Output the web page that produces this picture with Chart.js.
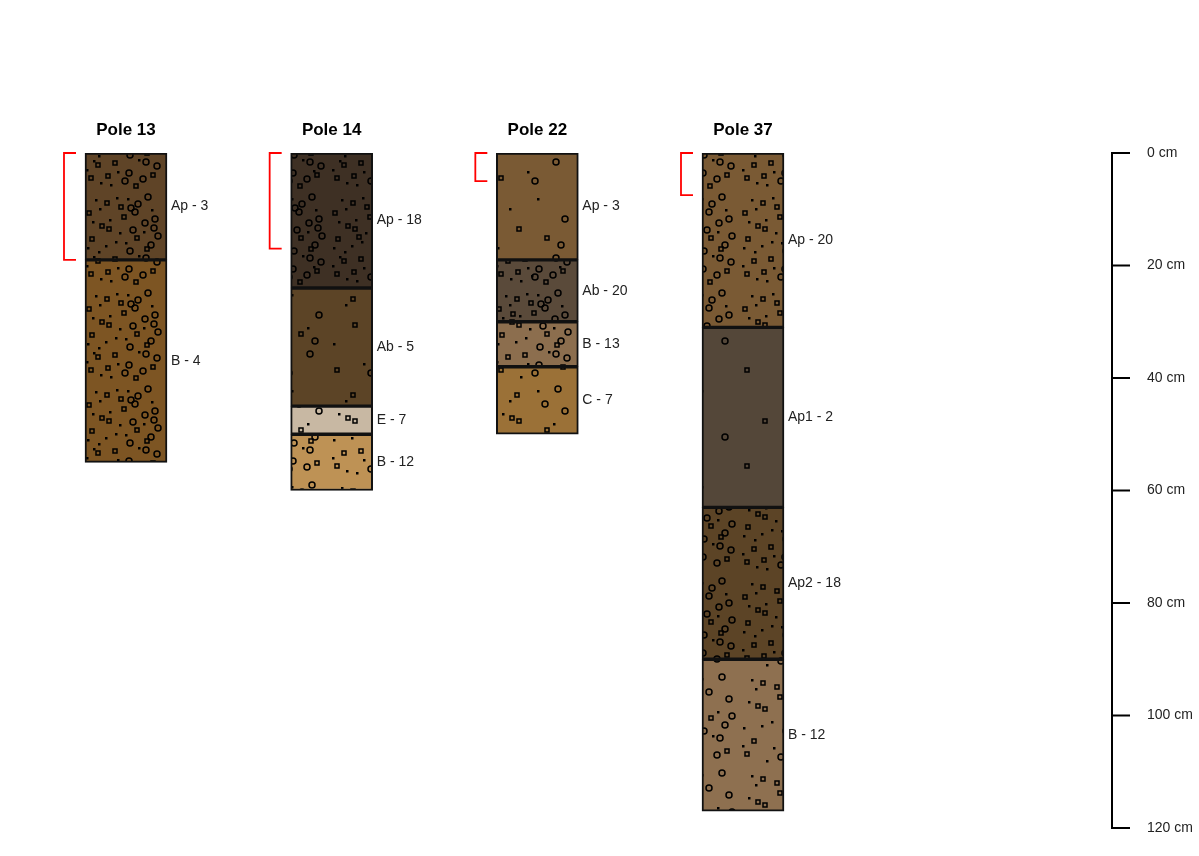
<!DOCTYPE html>
<html>
<head>
<meta charset="utf-8">
<script src="https://cdn.jsdelivr.net/npm/chart.js@4/dist/chart.umd.min.js"></script>
<style>
  body { margin: 0; background: #fff; }
  #wrap { width: 1199px; height: 856px; }
</style>
</head>
<body>
<div id="wrap"><canvas id="c" width="1199" height="856"></canvas></div>
<script>
// profiles
var poles = ['Pole 13', 'Pole 14', 'Pole 22', 'Pole 37']
var bracketBottom = [19, 17, 5, 7.5]   // red bracket depth (cm) per profile

// horizons
var hzPole   = [0, 0, 1, 1, 1, 1, 2, 2, 2, 2, 3, 3, 3, 3]
var hzName   = ['Ap', 'B', 'Ap', 'Ab', 'E', 'B', 'Ap', 'Ab', 'B', 'C', 'Ap', 'Ap1', 'Ap2', 'B']
var hzValue  = [3, 4, 18, 5, 7, 12, 3, 20, 13, 7, 20, 2, 18, 12]
var hzTop    = [0, 19, 0, 24, 45, 50, 0, 19, 30, 38, 0, 31, 63, 90]
var hzBottom = [19, 55, 24, 45, 50, 60, 19, 30, 38, 50, 31, 63, 90, 117]
var hzColor  = ['#5f4427', '#7d5523', '#3e3024', '#5c4426', '#c8b8a3', '#be9255',
                '#7a5a34', '#5a4a3a', '#8c6e4e', '#9b7137',
                '#7a5a34', '#544739', '#5c4426', '#8e7050']
// share of the fragment symbols shown in each horizon
var hzFrag   = [0.64, 0.64, 0.66, 0.16, 0.27, 0.5, 0.14, 0.7, 0.52, 0.28, 0.6, 0.05, 0.57, 0.38]

// depth scale
var depthTicks = [0, 20, 40, 60, 80, 100, 120]

// fragment texture: symbols spread over a tile with a Halton sequence (fixed, not random)
var TILE_W = 82, TILE_H = 96, TILE_N = 80
var symKinds = [0, 1, 2, 1, 0, 2, 1, 2, 0, 2]   // 0 circle, 1 open square, 2 dot
function halton(i, b) {
  var f = 1, r = 0
  while (i > 0) { f = f / b; r += f * (i % b); i = Math.floor(i / b) }
  return r
}

function makePattern(color, frag) {
  var t = document.createElement('canvas')
  t.width = TILE_W; t.height = TILE_H
  var g = t.getContext('2d')
  g.fillStyle = color
  g.fillRect(0, 0, TILE_W, TILE_H)
  var n = Math.round(TILE_N * frag)
  g.strokeStyle = '#000'
  g.fillStyle = '#000'
  g.lineWidth = 1.5
  for (var i = 0; i < n; i++) {
    var x = Math.round(halton(i + 7, 2) * (TILE_W - 8)) + 4
    var y = Math.round(halton(i + 7, 3) * (TILE_H - 8)) + 4
    var kind = symKinds[i % symKinds.length]
    if (kind == 0) {
      g.beginPath(); g.arc(x, y, 3, 0, Math.PI * 2); g.stroke()
    } else if (kind == 1) {
      g.strokeRect(x - 2, y - 2, 4, 4)
    } else {
      g.fillRect(x - 1, y - 1, 2.5, 2.5)
    }
  }
  return g.createPattern(t, 'repeat')
}

var points = []
var fills = []
for (var i = 0; i < hzName.length; i++) {
  points.push({x: hzPole[i] + 1, y: [hzTop[i], hzBottom[i]]})
  fills.push(makePattern(hzColor[i], hzFrag[i]))
}

var AXIS_POS = 5.794  // x position of the depth axis, in profile units

var annotate = {
  id: 'annotate',
  afterDatasetsDraw(chart) {
    var ctx = chart.ctx
    var xs = chart.scales.x, ys = chart.scales.y
    var half = 41
    ctx.save()
    ctx.textBaseline = 'middle'

    // titles
    ctx.fillStyle = '#000'
    ctx.font = 'bold 17px "Liberation Sans", Arial, sans-serif'
    ctx.textAlign = 'center'
    poles.forEach((p, k) => {
      ctx.fillText(p, xs.getPixelForValue(k + 1), 130)
    })

    // horizon labels
    ctx.font = '14px "Liberation Sans", Arial, sans-serif'
    ctx.textAlign = 'left'
    ctx.fillStyle = '#222'
    for (var i = 0; i < hzName.length; i++) {
      var yc = (ys.getPixelForValue(hzTop[i]) + ys.getPixelForValue(hzBottom[i])) / 2
      ctx.fillText(hzName[i] + ' - ' + hzValue[i], xs.getPixelForValue(hzPole[i] + 1) + half + 4, yc)
    }

    // red brackets
    ctx.strokeStyle = '#ff0000'
    ctx.lineWidth = 1.8
    bracketBottom.forEach((b, k) => {
      var left = xs.getPixelForValue(k + 1) - half - 21
      var y0 = ys.getPixelForValue(0), y1 = ys.getPixelForValue(b)
      ctx.beginPath()
      ctx.moveTo(left + 12, y0)
      ctx.lineTo(left, y0)
      ctx.lineTo(left, y1)
      ctx.lineTo(left + 12, y1)
      ctx.stroke()
    })

    // depth axis
    var ax = Math.round(xs.getPixelForValue(AXIS_POS))
    ctx.strokeStyle = '#000'
    ctx.lineWidth = 2
    ctx.beginPath()
    ctx.moveTo(ax, ys.getPixelForValue(0))
    ctx.lineTo(ax, ys.getPixelForValue(120))
    ctx.stroke()
    ctx.font = '14px "Liberation Sans", Arial, sans-serif'
    ctx.fillStyle = '#222'
    depthTicks.forEach(d => {
      var y = ys.getPixelForValue(d)
      ctx.beginPath()
      ctx.moveTo(ax - 1, y)
      ctx.lineTo(ax + 18, y)
      ctx.stroke()
      ctx.fillText(d + ' cm', ax + 35, y)
    })
    ctx.restore()
  }
}

new Chart(document.getElementById('c'), {
  type: 'bar',
  data: {
    datasets: [{
      data: points,
      backgroundColor: fills,
      borderColor: '#111',
      borderWidth: 2,
      borderSkipped: false,
      barThickness: 82
    }]
  },
  options: {
    responsive: false,
    animation: false,
    devicePixelRatio: 1,
    layout: { padding: { top: 153, bottom: 28, left: 0, right: 0 } },
    plugins: { legend: { display: false }, tooltip: { enabled: false } },
    scales: {
      x: { type: 'linear', min: 0.3874, max: 6.2172, offset: false, display: false },
      y: { min: 0, max: 120, reverse: true, display: false }
    }
  },
  plugins: [annotate]
})
</script>
</body>
</html>
